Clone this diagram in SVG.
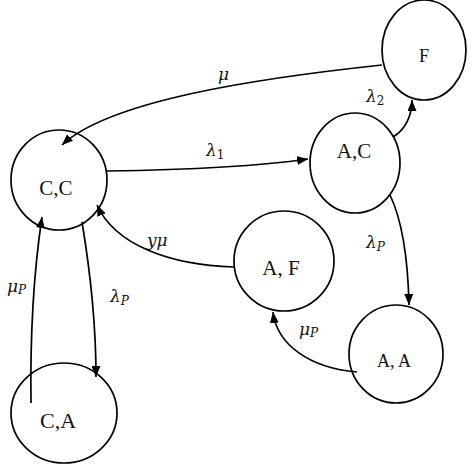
<svg xmlns="http://www.w3.org/2000/svg" width="474" height="474" viewBox="0 0 474 474">
<defs>
<marker id="arr" viewBox="0 0 11 9" refX="11" refY="4.5" markerWidth="11" markerHeight="9" markerUnits="userSpaceOnUse" orient="auto">
<path d="M0,0 L11,4.5 L0,9 Z" fill="#000"/>
</marker>
</defs>
<style>
.node ellipse{fill:#fff;stroke:#000;stroke-width:1.7}
.node text{font-family:"Liberation Serif","Times New Roman",serif;fill:#111;text-anchor:middle}
.edge{fill:none;stroke:#000;stroke-width:1.7;marker-end:url(#arr)}
.lbl{font-family:"DejaVu Serif","Liberation Serif",serif;font-style:italic;font-size:17px;fill:#111}
.sub{font-size:12px}
.up{font-style:normal}
</style>
<rect width="474" height="474" fill="#fff"/>
<g id="nodes">
<g id="n-F" class="node"><ellipse cx="424" cy="50" rx="42" ry="50"/><text x="424" y="62" font-size="18">F</text></g>
<g id="n-CC" class="node"><ellipse cx="59" cy="180" rx="48" ry="50"/><text x="56" y="195" font-size="21">C,C</text></g>
<g id="n-AC" class="node"><ellipse cx="355" cy="163" rx="45" ry="50"/><text x="354" y="158" font-size="21">A,C</text></g>
<g id="n-AF" class="node"><ellipse cx="284" cy="261" rx="50" ry="50"/><text x="281" y="275" font-size="21">A, F</text></g>
<g id="n-AA" class="node"><ellipse cx="396" cy="354" rx="47" ry="49"/><text x="394" y="367" font-size="18">A, A</text></g>
<g id="n-CA" class="node"><ellipse cx="64" cy="413" rx="53" ry="50"/><text x="58" y="428" font-size="22">C,A</text></g>
</g>
<g id="connectors">
<path class="edge" d="M382,65 C260,78 110,100 62,145"/>
<path class="edge" d="M107,171 C180,170 260,166 308,159"/>
<path class="edge" d="M393,137 C405,130 412,116 412,100"/>
<path class="edge" d="M390,195 C402,220 408,262 409,305"/>
<path class="edge" d="M357,372 C310,368 277,345 273,312"/>
<path class="edge" d="M234,267 C170,265 115,245 97,205"/>
<path class="edge" d="M31,403 C30,330 34,270 42,217"/>
<path class="edge" d="M82,222 C90,270 96,330 96,377"/>
</g>
<g id="labels">
<text class="lbl" x="218" y="80">μ</text>
<text class="lbl" x="206" y="156">λ<tspan class="sub up" dy="3">1</tspan></text>
<text class="lbl" x="366" y="102">λ<tspan class="sub up" dy="3">2</tspan></text>
<text class="lbl" x="366" y="248">λ<tspan class="sub" dy="3">P</tspan></text>
<text class="lbl" x="299" y="335">μ<tspan class="sub" dy="2">P</tspan></text>
<text class="lbl" x="147" y="246">yμ</text>
<text class="lbl" x="7" y="292">μ<tspan class="sub" dy="2">P</tspan></text>
<text class="lbl" x="110" y="302">λ<tspan class="sub" dy="3">P</tspan></text>
</g>
</svg>
